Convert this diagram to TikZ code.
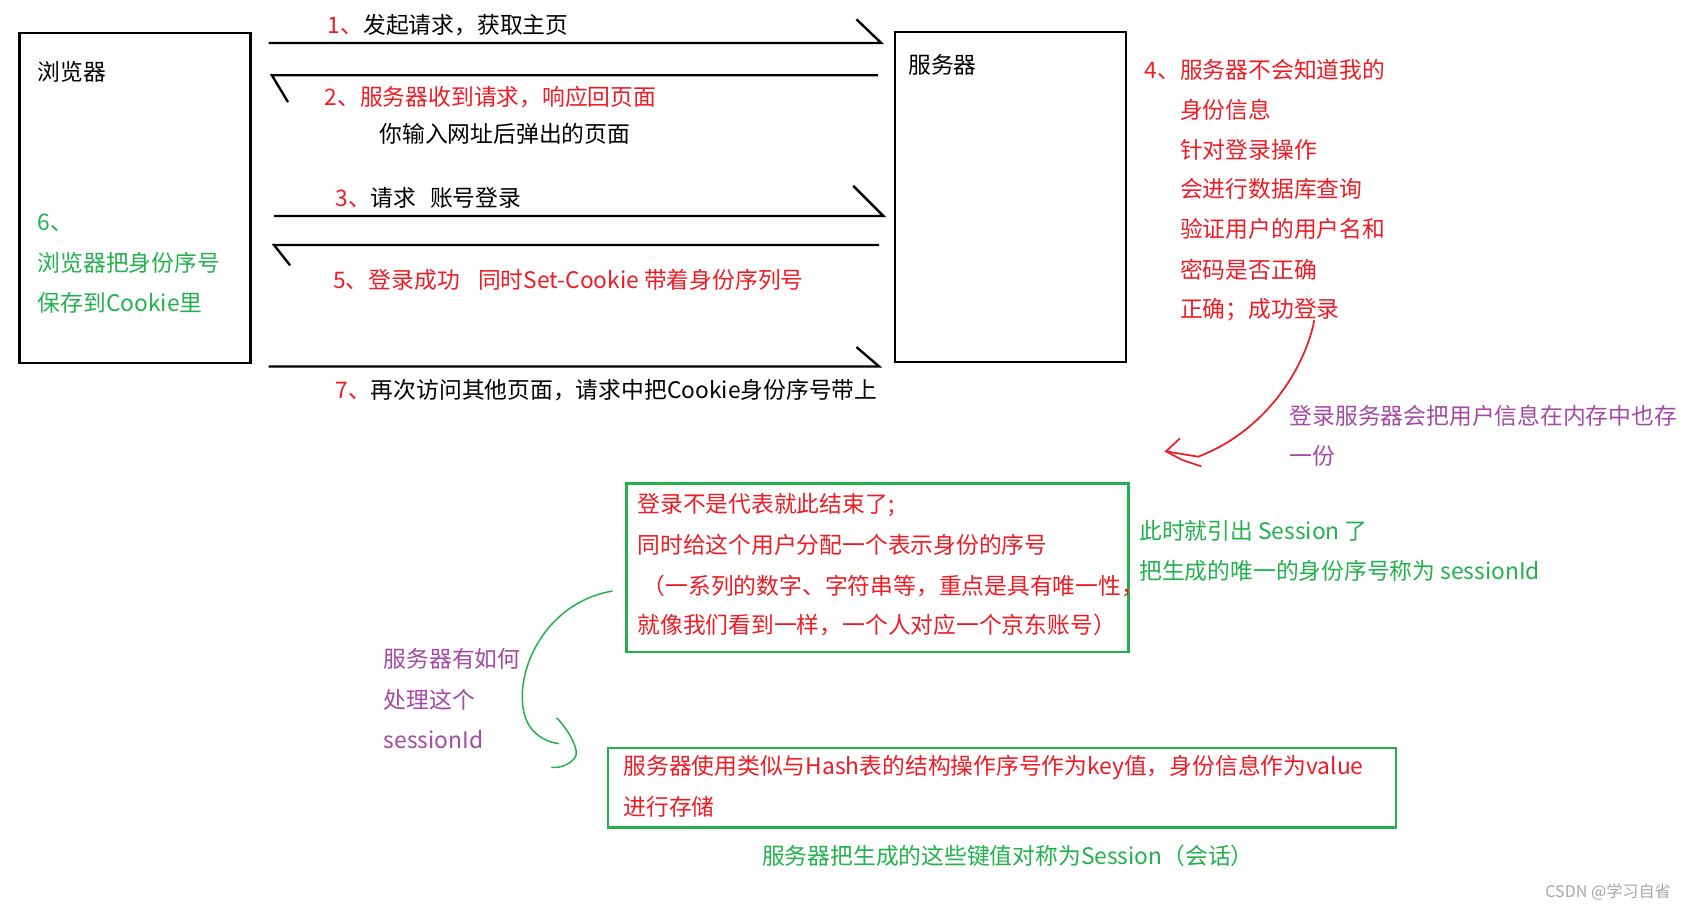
\documentclass[tikz,border=0pt]{standalone}
\usepackage{fontspec}
\setmainfont{Noto Sans CJK SC}
\definecolor{myred}{RGB}{237,28,36}
\definecolor{mygreen}{RGB}{34,177,76}
\definecolor{mypurple}{RGB}{163,73,164}
\begin{document}
\begin{tikzpicture}[x=1pt,y=-1pt,
  t/.style={anchor=west,inner sep=0pt,font=\fontsize{21.2}{21}\selectfont},
  ln/.style={line width=2.2pt},
  bx/.style={draw,line width=2.2pt},
  gb/.style={draw=mygreen,line width=2.2pt}]
\useasboundingbox (0,0) rectangle (1568,848);
% boxes
\draw[bx] (18,31) rectangle (233,338);
\draw[bx] (833,30) rectangle (1048,337);
\node[t] (b) at (35,67) {浏览器};
\node[t] (s) at (845,60) {服务器};
\node[t,mygreen] (g1) at (35,207) {6、};
\node[t,mygreen] (g2) at (35,245) {浏览器把身份序号};
\node[t,mygreen] (g3) at (35,282) {保存到Cookie里};
% arrows
\coordinate (a1s) at (250,40); \coordinate (a1e) at (820,40); \coordinate (a1h) at (797,18);
\draw[ln] (a1s)--(a1e)--(a1h);
\coordinate (a2s) at (817,70); \coordinate (a2e) at (253,70); \coordinate (a2h) at (268,95);
\draw[ln] (a2s)--(a2e)--(a2h);
\coordinate (a3s) at (255,201); \coordinate (a3e) at (822,201); \coordinate (a3h) at (794,173);
\draw[ln] (a3s)--(a3e)--(a3h);
\coordinate (a5s) at (818,228); \coordinate (a5e) at (255,228); \coordinate (a5h) at (270,247);
\draw[ln] (a5s)--(a5e)--(a5h);
\coordinate (a7s) at (250,341); \coordinate (a7e) at (818,341); \coordinate (a7h) at (797,323);
\draw[ln] (a7s)--(a7e)--(a7h);
\node[t] (l1) at (305,23) {\textcolor{myred}{1、}发起请求，获取主页};
\node[t,myred] (l2) at (302,90) {2、服务器收到请求，响应回页面};
\node[t] (l2b) at (353,125) {你输入网址后弹出的页面};
\node[t] (l3) at (312,184) {\textcolor{myred}{3、}请求\hspace{0.6em}账号登录};
\node[t,myred] (l5) at (310,260) {5、登录成功\hspace{0.8em}同时Set-Cookie 带着身份序列号};
\node[t] (l7) at (312,363) {\textcolor{myred}{7、}再次访问其他页面，请求中把Cookie身份序号带上};
% right red text
\node[t,myred] (r1) at (1065,65) {4、服务器不会知道我的};
\node[t,myred] (r2) at (1098,102) {身份信息};
\node[t,myred] (r3) at (1098,139) {针对登录操作};
\node[t,myred] (r4) at (1098,176) {会进行数据库查询};
\node[t,myred] (r5) at (1098,213) {验证用户的用户名和};
\node[t,myred] (r6) at (1098,251) {密码是否正确};
\node[t,myred] (r7) at (1098,288) {正确；成功登录};
\coordinate (c1) at (1223,298); \coordinate (c2) at (1085,420);
\draw[myred,line width=1.6pt] (c1) .. controls (1215,340) and (1180,400) .. (1115,425) -- (c2) -- (1098,408);
\draw[myred,line width=1.6pt] (c2) -- (1100,428) -- (1118,434);
\node[t,mypurple] (p1) at (1200,387) {登录服务器会把用户信息在内存中也存};
\node[t,mypurple] (p2) at (1200,424) {一份};
% green box 1
\draw[gb] (583,450) rectangle (1050,607);
\node[t,myred] (m1) at (593,470) {登录不是代表就此结束了;};
\node[t,myred] (m2) at (593,507) {同时给这个用户分配一个表示身份的序号};
\node[t,myred] (m3) at (598,545) {（一系列的数字、字符串等，重点是具有唯一性，};
\node[t,myred] (m4) at (593,582) {就像我们看到一样，一个人对应一个京东账号）};
\node[t,mygreen] (n1) at (1060,494) {此时就引出 Session 了};
\node[t,mygreen] (n2) at (1060,531) {把生成的唯一的身份序号称为 sessionId};
% purple left
\node[t,mypurple] (q1) at (357,613) {服务器有如何};
\node[t,mypurple] (q2) at (357,651) {处理这个};
\node[t,mypurple] (q3) at (357,688) {sessionId};
\coordinate (d1) at (570,550);
\draw[mygreen,line width=1.4pt] (d1) .. controls (510,560) and (480,620) .. (487,660) .. controls (490,680) and (505,690) .. (520,692);
\draw[mygreen,line width=1.4pt] (518,668) .. controls (530,680) and (540,700) .. (535,705) .. controls (530,712) and (520,715) .. (513,714);
% green box 2
\draw[gb] (566,696) rectangle (1299,770);
\node[t,myred] (k1) at (580,714) {服务器使用类似与Hash表的结构操作序号作为key值，身份信息作为value};
\node[t,myred] (k2) at (580,751) {进行存储};
\node[t,mygreen] (k3) at (709,796) {服务器把生成的这些键值对称为Session（会话）};
\node[anchor=east,inner sep=0pt,text=gray!70,font=\fontsize{15}{15}\selectfont] (w) at (1555,830) {CSDN @学习自省};
\end{tikzpicture}
\end{document}
